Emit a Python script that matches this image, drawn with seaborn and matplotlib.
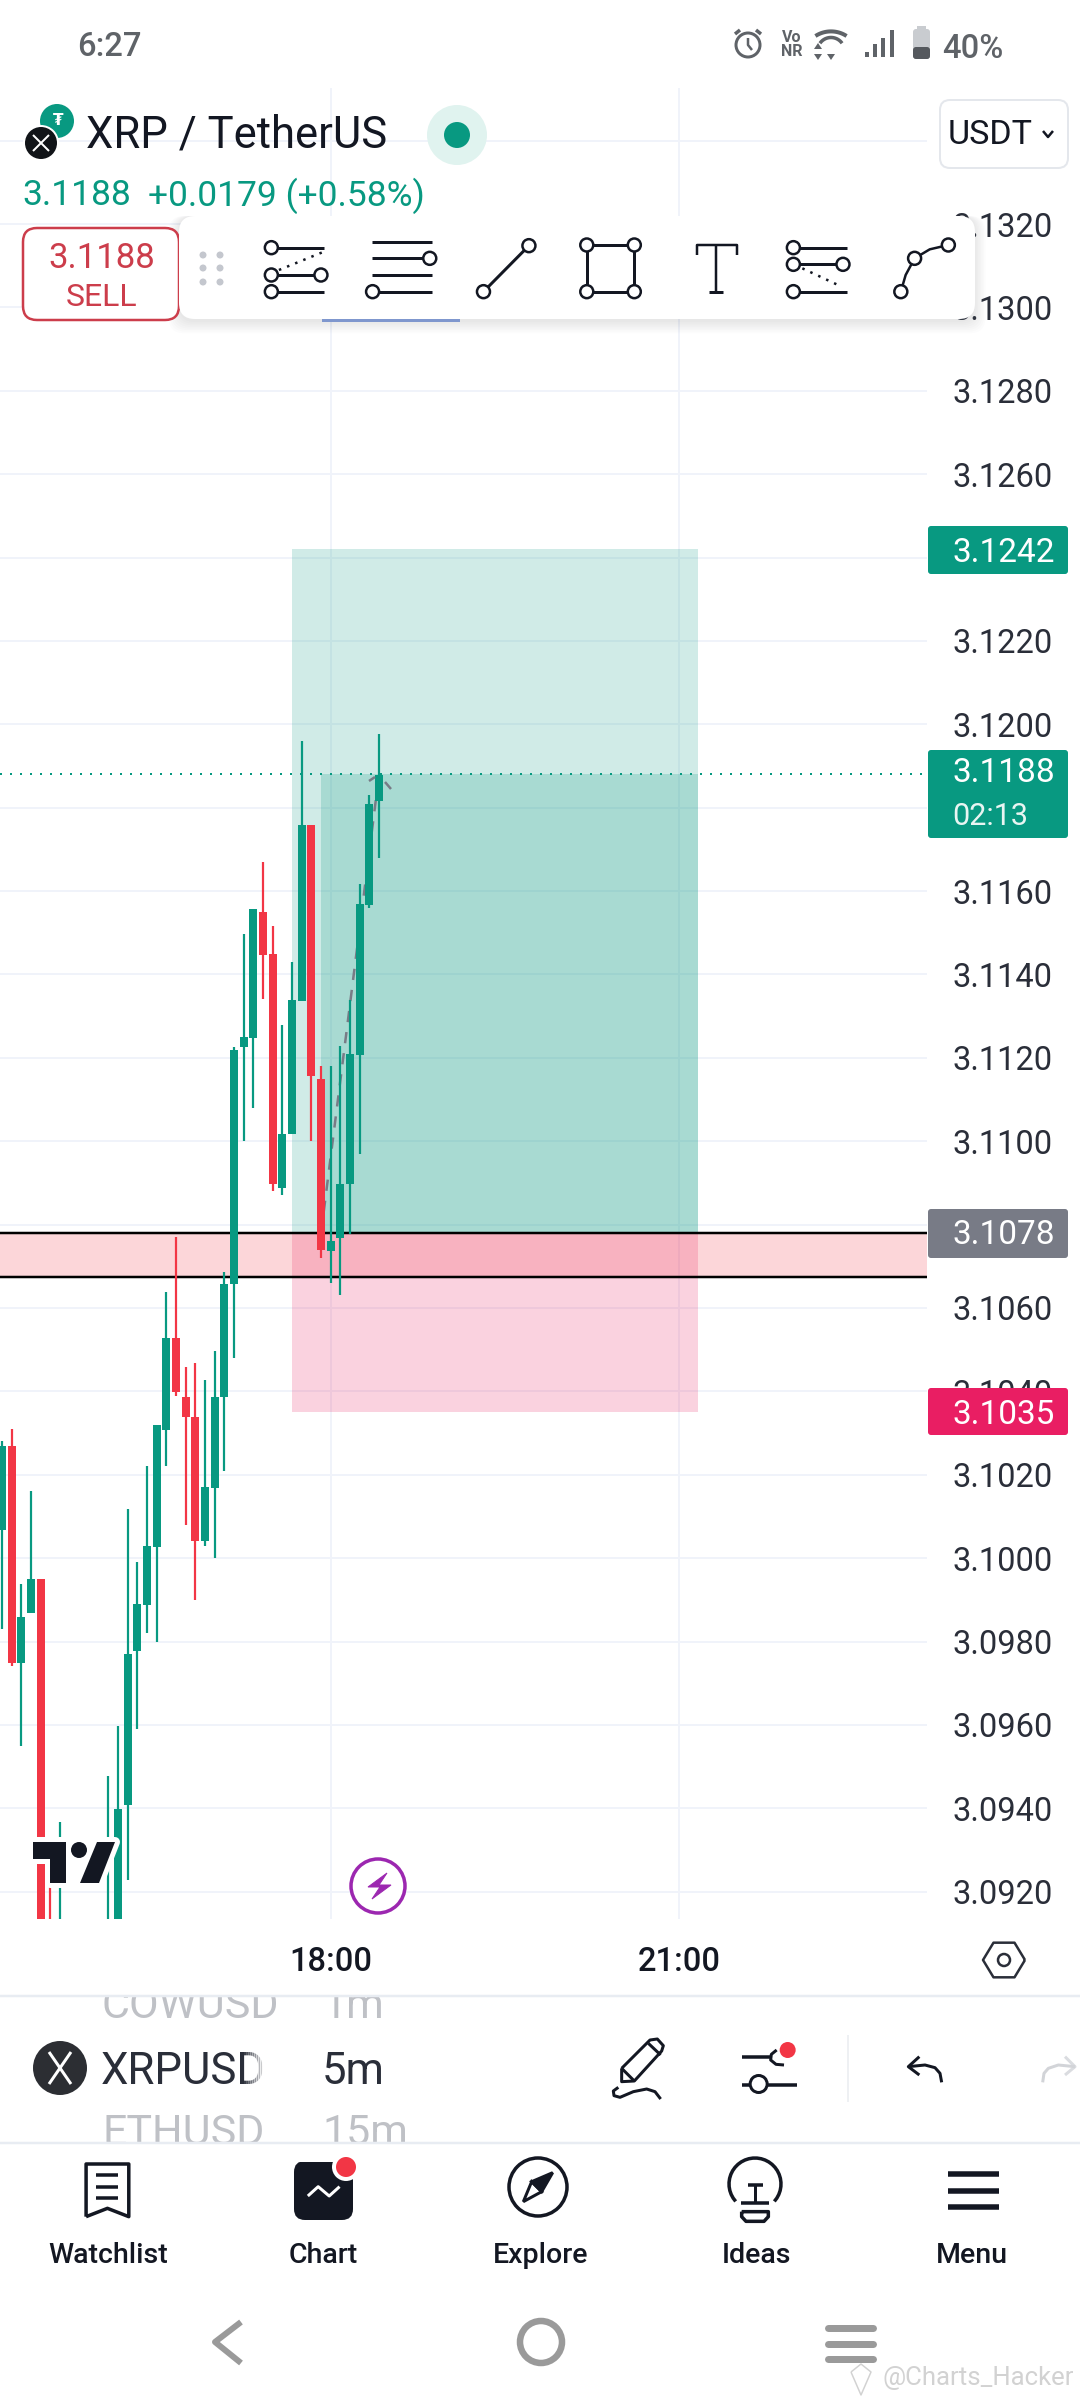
import numpy as np
import pandas as pd
import seaborn as sns
import matplotlib.pyplot as plt
from matplotlib.patches import Circle, FancyBboxPatch, Polygon, Rectangle

# candle data (5m XRP/USDT)
candle_index = [0, 1, 2, 3, 4, 5, 6, 11, 12, 13, 14, 15, 16, 17, 18, 19, 20, 21, 22, 23, 24, 25,
                26, 27, 28, 29, 30, 31, 32, 33, 34, 35, 36, 37, 38, 39]
candle_open = [3.10068, 3.10268, 3.09748, 3.09869, 3.09949, 3.0910, 3.0905, 3.0905, 3.0908, 3.09407,
               3.09777, 3.09888, 3.10026, 3.10307, 3.10529, 3.10387, 3.10339, 3.10040, 3.10169,
               3.10386, 3.10658, 3.11226, 3.11248, 3.11549, 3.11448, 3.10888, 3.11018, 3.11337,
               3.11758, 3.11150, 3.10737, 3.10768, 3.10898, 3.11208, 3.11566, 3.11817]
candle_close = [3.10268, 3.09748, 3.09860, 3.09949, 3.0905, 3.0905, 3.0910, 3.0912, 3.09399, 3.09769,
                3.09890, 3.10028, 3.10319, 3.10529, 3.10398, 3.10338, 3.10040, 3.10170, 3.10387,
                3.10658, 3.11218, 3.11250, 3.11558, 3.11446, 3.10898, 3.11018, 3.11338, 3.11758,
                3.11156, 3.10738, 3.10760, 3.10898, 3.11209, 3.11569, 3.11808, 3.11878]
candle_high = [3.10280, 3.10309, 3.09939, 3.10160, 3.09949, 3.0932, 3.09368, 3.09477, 3.09597, 3.10119,
               3.09991, 3.10221, 3.10319, 3.10638, 3.10770, 3.10458, 3.10468, 3.10427, 3.10498,
               3.10686, 3.11226, 3.11498, 3.11558, 3.11669, 3.11517, 3.11278, 3.11429, 3.11959,
               3.11758, 3.11180, 3.11180, 3.11228, 3.11338, 3.11618, 3.11830, 3.11978]
candle_low = [3.09830, 3.09742, 3.09549, 3.09869, 3.0900, 3.0900, 3.0900, 3.0900, 3.0900, 3.09229,
              3.09589, 3.09820, 3.09800, 3.10222, 3.10388, 3.10080, 3.09900, 3.10029, 3.10000,
              3.10210, 3.10479, 3.11001, 3.11080, 3.11340, 3.10881, 3.10870, 3.11018, 3.11337,
              3.11001, 3.10721, 3.10660, 3.10630, 3.10778, 3.10970, 3.11560, 3.11680]

price_ticks = [3.1340, 3.1320, 3.1300, 3.1280, 3.1260, 3.1240, 3.1220, 3.1200, 3.1180, 3.1160, 3.1140,
               3.1120, 3.1100, 3.1080, 3.1060, 3.1040, 3.1020, 3.1000, 3.0980, 3.0960, 3.0940, 3.0920]
time_ticks = [34, 70]
time_labels = ["18:00", "21:00"]

last_price = 3.1188
entry_price = 3.1078
target_price = 3.1242
stop_price = 3.1035
zone_low = 3.10675
position_start, position_fill, position_end = 30, 33, 72

GREEN = "#089981"
RED = "#F23645"
PINK = "#E91E63"
GRID = "#F0F3FA"
INK = "#131722"
STATUS = "#5F6368"
NAVGREY = "#9A9A9A"
YLIM = (3.091344, 3.135264)
XLIM = (-0.2, 95.66)

sns.set_theme(style="white")
plt.rcParams["font.family"] = ["Roboto", "DejaVu Sans"]


def px(v):
    return v * 0.72


fig = plt.figure(figsize=(10.8, 24), dpi=100, facecolor="white")
ax = fig.add_axes([0, 1 - 1919 / 2400, 927 / 1080, (1919 - 88) / 2400])
ax.set_xlim(*XLIM)
ax.set_ylim(*YLIM)

# ---------------- candles, long form so seaborn does the drawing ----------------
candles = pd.DataFrame({"i": candle_index, "o": candle_open, "c": candle_close,
                        "h": candle_high, "l": candle_low})
candles["dir"] = np.where(candles.c >= candles.o, "up", "down")
wicks = candles.melt(id_vars=["i", "dir"], value_vars=["l", "h"], value_name="price")
bodies = candles.melt(id_vars=["i", "dir"], value_vars=["o", "c"], value_name="price")
palette = {"up": GREEN, "down": RED}

# position tool and zone
span = XLIM[1] - XLIM[0]
ax.axhspan(entry_price, target_price, xmin=(position_start + 0.2) / span, xmax=(position_end + 0.2) / span,
           color=GREEN, alpha=0.19, lw=0, zorder=1)
ax.axhspan(entry_price, last_price, xmin=(position_fill + 0.2) / span, xmax=(position_end + 0.2) / span,
           color=GREEN, alpha=0.2, lw=0, zorder=1)
ax.axhspan(stop_price, entry_price, xmin=(position_start + 0.2) / span, xmax=(position_end + 0.2) / span,
           color=PINK, alpha=0.2, lw=0, zorder=1)
ax.axhspan(zone_low, entry_price, color=RED, alpha=0.2, lw=0, zorder=1.5)
ax.axhline(entry_price, color="black", lw=px(2.5), zorder=2)
ax.axhline(zone_low, color="black", lw=px(2.5), zorder=2)
ax.axhline(last_price, color=GREEN, lw=px(2), ls=(0, (1, 4)), zorder=2)
ax.plot([position_fill, candle_index[-1]], [entry_price, last_price], color="#787B86",
        lw=px(2.5), ls=(0, (4.5, 4)), zorder=2)

sns.lineplot(data=wicks, x="i", y="price", units="i", hue="dir", palette=palette, estimator=None,
             sort=False, linewidth=px(2.2), solid_capstyle="butt", legend=False, ax=ax, zorder=3)
sns.lineplot(data=bodies, x="i", y="price", units="i", hue="dir", palette=palette, estimator=None,
             sort=False, linewidth=px(8), solid_capstyle="butt", legend=False, ax=ax, zorder=4)

ax.set_xlim(*XLIM)
ax.set_ylim(*YLIM)
ax.set_xlabel("")
ax.set_ylabel("")
ax.set_yticks(price_ticks)
ax.set_yticklabels([f"{p:.4f}" for p in price_ticks])
ax.set_xticks(time_ticks)
ax.set_xticklabels(time_labels, fontweight="medium")
ax.yaxis.tick_right()
ax.tick_params(axis="y", length=0, pad=18, labelsize=23.5, labelcolor="#2A2E39")
ax.tick_params(axis="x", length=0, pad=19.5, labelsize=23.5, labelcolor=INK)
ax.grid(True, color=GRID, lw=px(2))
ax.set_axisbelow(True)
for s in ax.spines.values():
    s.set_visible(False)

# ---------------- app chrome, in screen pixels ----------------
ui = fig.add_axes([0, 0, 1, 1], zorder=5)
ui.set_xlim(0, 1080)
ui.set_ylim(2400, 0)
ui.axis("off")


# crop coordinates to screen pixels
def zt(X, Y):
    return X / 1.452, Y / 3


def zb(X, Y):
    return X / 1.452, 1900 + Y / 3


def zr(X, Y):
    return 600 + X / 3, 2025 + Y / 3


def zn(X, Y):
    return 500 + X / 3, 2150 + Y / 3


def line(pts, color=INK, lw=3, z=10, **kw):
    xs, ys = zip(*pts)
    ui.plot(xs, ys, color=color, lw=px(lw), zorder=z, solid_capstyle=kw.pop("cap", "butt"), **kw)


def ring(x, y, r, color=INK, lw=3, fill="white", z=11):
    ui.add_patch(Circle((x, y), r, fc=fill, ec=color, lw=px(lw), zorder=z))


def arc(cx, cy, r, a0, a1):
    a = np.radians(np.linspace(a0, a1, 30))
    return list(zip(cx + r * np.cos(a), cy - r * np.sin(a)))


def label(x, y, s, size, color=INK, ha="center", weight="normal", z=12, **kw):
    return ui.text(x, y + 2.5, s, fontsize=size, color=color, ha=ha, va="center", fontweight=weight, zorder=z, **kw)


def box(x0, y0, x1, y1, r, fc="white", ec="none", lw=0, z=9, alpha=None):
    ui.add_patch(FancyBboxPatch((x0 + r, y0 + r), x1 - x0 - 2 * r, y1 - y0 - 2 * r,
                                boxstyle=f"round,pad={r},rounding_size={r}", fc=fc, ec=ec,
                                lw=px(lw), zorder=z, alpha=alpha))


# status bar
label(77, 45, "6:27", 23.5, STATUS, ha="left", weight="medium")
ring(748, 45, 12, STATUS, 3)
line([(748, 38), (748, 45), (752, 50)], STATUS, 2.5, z=12)
line([(735, 34), (740, 30)], STATUS, 3.5)
line([(756, 30), (761, 34)], STATUS, 3.5)
label(792, 35, "Vo", 11.5, STATUS, weight="bold")
label(792, 49, "NR", 11.5, STATUS, weight="bold")
line(arc(831, 60, 28.6, 57, 123), STATUS, 4)
line(arc(831, 51, 13.5, 35, 145), STATUS, 3.5)
for tx, pts in [(818, [(-4, 4), (4, 4), (0, -2)]), (818, [(-4, 9), (4, 9), (0, 15)]), (831, [(-4, 9), (4, 9), (0, 15)])]:
    ui.add_patch(Polygon([(tx + a, 45 + b) for a, b in pts], closed=True, fc=STATUS, lw=0, zorder=10))
for bx, top in [(867, 52), (875, 44), (883, 38), (892, 30)]:
    ui.add_patch(Rectangle((bx - 2.2, top), 4.4, 57 - top, fc=STATUS, lw=0, zorder=10))
box(913, 29, 930, 59, 3, fc="#C9CCD0")
box(913, 47, 930, 59, 3, fc="#55595E", z=10)
ui.add_patch(Rectangle((917, 26), 9, 4, fc="#C9CCD0", lw=0, zorder=10))
label(942, 46, "40%", 23.5, STATUS, ha="left", weight="medium")

# symbol header
ui.add_patch(Circle((57, 121), 17, fc=GREEN, ec="none", zorder=10))
label(58, 118, "₮", 11, "white", weight="bold", family="DejaVu Sans")
ui.add_patch(Circle((41, 143), 18, fc="white", ec="none", zorder=10.5))
ui.add_patch(Circle((41, 143), 16, fc="#111418", ec="none", zorder=11))
line([(33, 135), (41, 143), (49, 135)], "white", 2, z=12)
line([(33, 151), (41, 143), (49, 151)], "white", 2, z=12)
label(86, 133, "XRP / TetherUS", 31.4, INK, ha="left")
ui.add_patch(Circle((457, 135), 30, fc="#E0F3EF", ec="none", zorder=10))
ui.add_patch(Circle((457, 135), 13, fc=GREEN, ec="none", zorder=11))
box(940, 100, 1068, 168, 10, fc="white", ec="#E4E7EC", lw=2)
label(948, 133, "USDT", 24.5, INK, ha="left")
line([(1043, 131), (1048, 137), (1053, 131)], INK, 2.5, z=12)
label(22, 193, "3.1188", 25.5, GREEN, ha="left")
label(148, 193, "+0.0179 (+0.58%)", 25.5, GREEN, ha="left")

# sell button and drawing toolbar
box(23, 228, 179, 320, 14, fc="white", ec="#CC3D4B", lw=2.5)
label(102, 256, "3.1188", 25, "#CC3D4B")
label(102, 295, "SELL", 23, "#CC3D4B")
for k in range(8):
    box(179 - k * 1.5, 216, 975 + k * 1.5, 322 + k * 1.6, 16, fc="#6B7280", z=8, alpha=0.02)
ui.add_patch(Rectangle((322, 319), 138, 2.5, fc="#7F97CE", lw=0, zorder=8.5))
box(179, 216, 975, 319, 16)
for dx in [203, 220]:
    for dy in [255, 268, 282]:
        ui.add_patch(Circle((dx, dy), 3.5, fc="#C4C7CE", lw=0, zorder=10))


def tline(*pts, **kw):
    line([zt(*p) for p in pts], kw.pop("color", INK), kw.pop("lw", 3), **kw)


def tring(X, Y):
    ring(*zt(X, Y), 6.5, INK, 2.5)


tline((402, 743), (470, 743))
tline((402, 825), (458, 825))
tline((402, 875), (470, 875))
tline((405, 810), (468, 757), lw=2.5, ls=(0, (1, 2.5)))
for p in [(394, 743), (394, 825), (466, 825), (394, 875)]:
    tring(*p)
tline((540, 725), (627, 725))
tline((540, 775), (615, 775))
tline((540, 825), (627, 825))
tline((550, 875), (627, 875))
tring(624, 775)
tring(541, 875)
tline((702, 875), (768, 737))
tring(702, 875)
tring(768, 737)
tline((852, 735), (921, 735), (921, 875), (852, 875), (852, 735))
for p in [(852, 735), (921, 735), (852, 875), (921, 875)]:
    tring(*p)
tline((1012, 765), (1012, 735), (1070, 735), (1070, 765), lw=2.5)
tline((1040, 735), (1040, 877), lw=2.5)
tline((1030, 877), (1050, 877))
tline((1160, 743), (1230, 743))
tline((1160, 793), (1215, 793))
tline((1160, 875), (1230, 875))
tline((1165, 805), (1222, 860), lw=2.5, ls=(0, (1, 2.5)))
for p in [(1152, 743), (1152, 793), (1224, 793), (1152, 875)]:
    tring(*p)
line([zt(1308, 875), zt(1315, 825), zt(1328, 775), zt(1350, 748), zt(1377, 735)], INK, 2.5)
for p in [(1308, 875), (1328, 775), (1377, 735)]:
    tring(*p)

# price tags on the scale
for y0, y1, col in [(526, 574, GREEN), (750, 838, GREEN), (1209, 1258, "#787B86"), (1388, 1435, PINK)]:
    box(928, y0, 1068, y1, 3, fc=col)
label(952, 550, f"{target_price:.4f}", 24, "white", ha="left")
label(952, 771, f"{last_price:.4f}", 24, "white", ha="left")
label(952, 814, "02:13", 22, "#E8F5F2", ha="left")
label(952, 1233, f"{entry_price:.4f}", 24, "white", ha="left")
label(952, 1412, f"{stop_price:.4f}", 24, "white", ha="left")

# arrow head of the projected move
line([(369, 781), (375, 777)], "#787B86", 2.5)
line([(385, 782), (391, 789)], "#787B86", 2.5)

# logo over the candles
logo = [[(33, 1842), (66, 1842), (66, 1883), (50, 1883), (50, 1859), (33, 1859)],
        [(97, 1842), (115, 1842), (99, 1883), (80, 1883)]]
for pts in logo:
    ui.add_patch(Polygon(pts, closed=True, fc="white", ec="white", lw=px(10), joinstyle="round", zorder=9))
ui.add_patch(Circle((79, 1850), 13, fc="white", lw=0, zorder=9))
for pts in logo:
    ui.add_patch(Polygon(pts, closed=True, fc="#131722", lw=0, zorder=10))
ui.add_patch(Circle((79, 1850), 8, fc="#131722", lw=0, zorder=10))

# purple bolt
ring(378, 1886, 27, "#9C27B0", 3.5)
ui.add_patch(Polygon([(387, 1873), (368, 1887), (380, 1887), (372, 1899), (391, 1885), (379, 1885)],
                     closed=True, fc="#9C27B0", ec="#9C27B0", lw=px(1), zorder=12))

# settings hexagon
hex_pts = [(1004 + 21 * np.cos(np.radians(a)), 1960 + 20 * np.sin(np.radians(a))) for a in range(0, 361, 60)]
line(hex_pts, "#2A2E39", 2.5)
ring(1004, 1960, 6, "#2A2E39", 2.5)

# faded ticker wheel, clipped by white strips
label(102, 2004, "COWUSD", 31, "#BFC1C6", ha="left", z=9)
label(322, 2004, "1m", 31, "#BFC1C6", ha="left", z=9)
label(102, 2131, "ETHUSD", 31, "#BFC1C6", ha="left", z=9)
label(322, 2131, "15m", 31, "#BFC1C6", ha="left", z=9)
ui.add_patch(Rectangle((90, 1978), 320, 18, fc="white", lw=0, zorder=9.5))
ui.add_patch(Rectangle((90, 2142), 320, 20, fc="white", lw=0, zorder=9.5))
line([(0, 1996), (1080, 1996)], "#E8ECF2", 2.5)
line([(0, 2143), (1080, 2143)], "#E8ECF2", 2.5)

# symbol row
ui.add_patch(Circle((60, 2068), 27, fc="#2C2E33", lw=0, zorder=10))
line([(49, 2052), (60, 2068), (71, 2052)], "white", 3, z=12)
line([(49, 2084), (60, 2068), (71, 2084)], "white", 3, z=12)
label(101, 2069, "XRPUSDT", 31.5, "#2A2E39", ha="left", z=9)
label(322, 2069, "5m", 31.5, "#2A2E39", ha="left", z=9)
for k in range(14):
    ui.add_patch(Rectangle((244 + k * 2, 2040), 3, 60, fc="white", alpha=min(1, (k + 1) / 12), lw=0, zorder=9.2))
ui.add_patch(Rectangle((272, 2040), 46, 60, fc="white", lw=0, zorder=9.3))

# pencil
pen = [zr(65, 130), zr(150, 45), zr(172, 42), zr(190, 62), zr(185, 78), zr(103, 168), zr(65, 170), zr(65, 130)]
line(pen, INK, 3)
line([zr(65, 130), zr(103, 168)], INK, 3)
line([zr(145, 55), zr(182, 90)], INK, 3)
line([zr(55, 187), zr(40, 198), zr(42, 212), zr(60, 217), zr(100, 200), zr(140, 192), zr(165, 200), zr(182, 222)], INK, 3)
# sliders
line([zr(425, 97), zr(510, 97)], INK, 3.5)
line([zr(530, 75), zr(514, 88), zr(512, 105), zr(528, 118), zr(552, 120)], INK, 3)
ui.add_patch(Circle(zr(563, 75), 8, fc=RED, lw=0, zorder=12))
line([zr(425, 180), zr(590, 180)], INK, 3.5)
ring(*zr(476, 177), 8.5, INK, 3)
line([zr(743, 30), zr(743, 230)], "#EEF0F3", 2)
# undo / redo
line([zr(958, 95), zr(925, 125), zr(958, 150)], INK, 3)
line([zr(925, 125), zr(975, 120), zr(1005, 128), zr(1020, 145), zr(1025, 172)], INK, 3)
line([zr(1395, 95), zr(1425, 125), zr(1395, 150)], "#DADCE0", 3)
line([zr(1425, 125), zr(1375, 120), zr(1345, 130), zr(1332, 145), zr(1328, 172)], "#D2D4D8", 3)

# bottom navigation
line([zb(125, 950), zb(125, 792), zb(187, 792), zb(187, 950), zb(156, 925), zb(125, 950)], INK, 3.5)
for Y in [825, 860, 893]:
    line([zb(140, Y), zb(172, Y)], INK, 3.5)
box(294, 2161, 353, 2220, 11, fc="#131722")
line([zb(447, 888), zb(462, 860), zb(478, 888), zb(493, 860)], "white", 3)
ui.add_patch(Circle((346, 2167), 14, fc="white", lw=0, zorder=11))
ui.add_patch(Circle((346, 2167), 10, fc=RED, lw=0, zorder=12))
ring(538, 2187, 29, INK, 3.5)
ui.add_patch(Polygon([zn(95, 95), zn(70, 155), zn(125, 125)], closed=True, fc="white", ec=INK, lw=px(3), zorder=12))
ui.add_patch(Polygon([zn(158, 68), zn(95, 95), zn(125, 125)], closed=True, fc=INK, ec=INK, lw=px(3), zorder=12))
line(arc(755, 2184, 26, -42, 222), INK, 3.5, z=12)
line([zn(722, 160), zn(808, 160)], INK, 3.5, z=12)
line([zn(743, 105), zn(790, 105)], INK, 3.5, z=12)
line([zn(765, 105), zn(765, 160)], INK, 3, z=12)
line([zn(725, 185), zn(805, 185), zn(805, 200), zn(792, 214), zn(738, 214), zn(725, 200), zn(725, 185)], INK, 3.5, z=12)
for y in [2174, 2191, 2207]:
    line([(948, y), (999, y)], INK, 5.5)
for x, s in [(108, "Watchlist"), (323, "Chart"), (541, "Explore"), (756, "Ideas"), (972, "Menu")]:
    label(x, 2253, s, 20.5, INK, weight="medium")

# android nav
line([(241, 2322), (215, 2342), (241, 2363)], NAVGREY, 6)
ring(541, 2342, 21, NAVGREY, 6.5)
for y in [2328, 2344, 2359]:
    line([(828, y), (873, y)], NAVGREY, 7, cap="round")

# watermark
label(882, 2376, "@Charts_Hacker", 18.5, "#D2D2D2", ha="left")
line([(851, 2372), (861, 2395), (871, 2372), (861, 2364), (851, 2372)], "#D2D2D2", 1.5)

fig.savefig("out.png", dpi=100, facecolor="white")
